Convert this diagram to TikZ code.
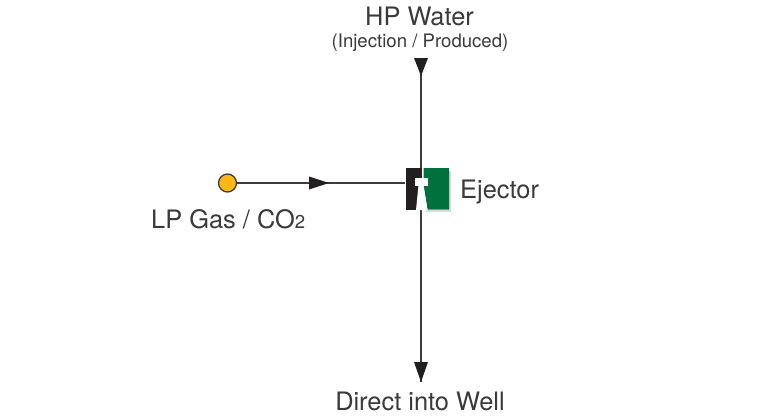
\documentclass[tikz,border=0pt]{standalone}
\usepackage{fontspec}
\setmainfont{TeX Gyre Heros}
\usetikzlibrary{arrows.meta}
\definecolor{linegray}{HTML}{3C3C3C}
\definecolor{txtgray}{HTML}{3A3A3A}
\definecolor{ejgreen}{HTML}{00713D}
\definecolor{ejblack}{HTML}{231F20}
\definecolor{srcyellow}{HTML}{FDB913}
\tikzset{
  pipe/.style={draw=linegray,line width=1.5pt},
  flowtip/.style={fill=ejblack,draw=none},
  lbl/.style={text=txtgray,inner sep=0pt,anchor=center},
  big/.style={lbl,font=\fontsize{25.4}{27}\selectfont},
  small/.style={lbl,font=\fontsize{18.6}{20}\selectfont},
}
\begin{document}
\begin{tikzpicture}[x=1pt,y=-1pt]
\useasboundingbox (0,0) rectangle (768,415);
\fill[white] (0,0) rectangle (768,415);
\coordinate (top) at (421,58);
\coordinate (bot) at (421,382);
\node[draw=linegray,fill=srcyellow,circle,line width=1.3pt,minimum size=18pt,inner sep=0pt] (src) at (227.5,183) {};
% pipes
\draw[pipe] (top) -- (bot);
\draw[pipe] (src.east) -- (408,183);
% arrowheads
\fill[flowtip] (414,58) -- (428,58) -- (421,76) -- cycle;
\fill[flowtip] (414,362) -- (428,362) -- (421,382) -- cycle;
\fill[flowtip] (309,176.5) -- (329,183) -- (309,189.5) -- cycle;
% ejector
\fill[black!15] (426,171) rectangle (451,212);
\fill[white] (405,168) rectangle (449,210);
\fill[ejblack] (406,168) rectangle (421.5,209.5);
\fill[ejgreen] (423.5,168) -- (449,168) -- (449,209.5) -- (427.5,209.5) -- (423.5,186) -- cycle;
\fill[white] (415,178) rectangle (427.5,185.5);
\fill[white] (418.5,185) -- (423.5,185) -- (427.5,210) -- (416,210) -- cycle;
\node[big,anchor=west] (ejl) at (460,192.5) {Ejector};
\node[big] (hp) at (419.5,16.5) {HP Water};
\node[small] (inj) at (420,43) {(Injection / Produced)};
\node[big] (well) at (420,401.5) {Direct into Well};
\node[big,anchor=west] (lp) at (151,219.5) {LP Gas / CO{\fontsize{18.6}{20}\selectfont 2}};
\end{tikzpicture}
\end{document}
